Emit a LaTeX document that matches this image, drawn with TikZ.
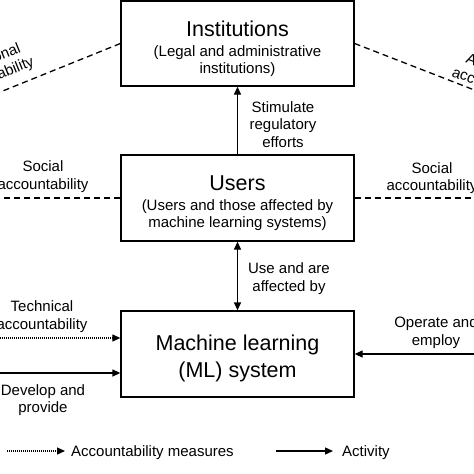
\documentclass[tikz,border=0pt]{standalone}
\usepackage{fontspec}
\setmainfont{Liberation Sans}
\usetikzlibrary{arrows.meta}
\begin{document}
\begin{tikzpicture}[x=1pt,y=-1pt,
  box/.style={draw, line width=1.3pt, minimum width=233pt, minimum height=86pt, inner sep=0pt},
  big/.style={font=\fontsize{21.5}{27}\selectfont, anchor=base, inner sep=0pt},
  small/.style={font=\fontsize{15}{17.5}\selectfont, align=center, inner sep=0pt},
  act/.style={line width=1.3pt, -{Triangle[length=8pt,width=7pt]}},
  meas/.style={line width=1.2pt, dash pattern=on 1pt off 1pt, -{Triangle[length=8pt,width=7pt]}},
  acc/.style={line width=1.3pt, dash pattern=on 6pt off 4pt}]
\useasboundingbox (0,0) rectangle (474,474);
\clip (0,0) rectangle (474,474);
% boxes (multi-line nodes: base = baseline of last line)
\node[box, minimum height=85pt] (inst) at (237.5,43.5) {};
\node[big] (instT) at (237.5,36.5) {Institutions};
\node[small, anchor=base] (instS) at (237.5,73.5) {(Legal and administrative\\institutions)};
\node[box] (users) at (237.5,198) {};
\node[big] (usersT) at (237.5,190) {Users};
\node[small, anchor=base] (usersS) at (237.5,227.5) {(Users and those affected by\\machine learning systems)};
\node[box] (ml) at (237.5,354) {};
\node[big, align=center] (mlT) at (237.5,377.5) {Machine learning\\(ML) system};
% vertical activities
\draw[act] (users.north) -- (inst.south);
\node[small, anchor=base] (stim) at (283,147) {Stimulate\\regulatory\\efforts};
\draw[act, {Triangle[length=8pt,width=7pt]}-{Triangle[length=8pt,width=7pt]}] (users.south) -- (ml.north);
\node[small, anchor=base] (use) at (289,291) {Use and are\\affected by};
% accountability dashed lines
\coordinate (instL) at (-30,104.2);
\coordinate (instR) at (504,101.5);
\draw[acc] (inst.west) -- (instL);
\draw[acc] (inst.east) -- (instR);
\node[small, rotate=22] (instAccL) at (-12,70.5) {Institutional\\accountability};
\node[small, rotate=-21] (instAccR) at (498,80.5) {Algorithmic\\accountability};
\coordinate (socL) at (-20,198);
\coordinate (socR) at (494,198);
\draw[acc] (users.west) -- (socL);
\draw[acc] (users.east) -- (socR);
\node[small, anchor=base] (socLT) at (43,189) {Social\\accountability};
\node[small, anchor=base] (socRT) at (432,190.5) {Social\\accountability};
% ML inputs
\coordinate (techS) at (-20,338);
\draw[meas] (techS) -- (techS -| ml.west);
\node[small, anchor=base] (techT) at (42,329) {Technical\\accountability};
\coordinate (devS) at (-20,373);
\draw[act] (devS) -- (devS -| ml.west);
\node[small, anchor=base] (devT) at (43,412.5) {Develop and\\provide};
\coordinate (opS) at (494,354);
\draw[act] (opS) -- (ml.east);
\node[small, anchor=base] (opT) at (436,345) {Operate and\\employ};
% legend
\coordinate (l1a) at (7,451);
\coordinate (l1b) at (65,451);
\draw[meas] (l1a) -- (l1b);
\node[small, anchor=base west] (l1t) at (71,456) {Accountability measures};
\coordinate (l2a) at (276,451);
\coordinate (l2b) at (333,451);
\draw[act] (l2a) -- (l2b);
\node[small, anchor=base west] (l2t) at (342,456) {Activity};
\end{tikzpicture}
\end{document}
